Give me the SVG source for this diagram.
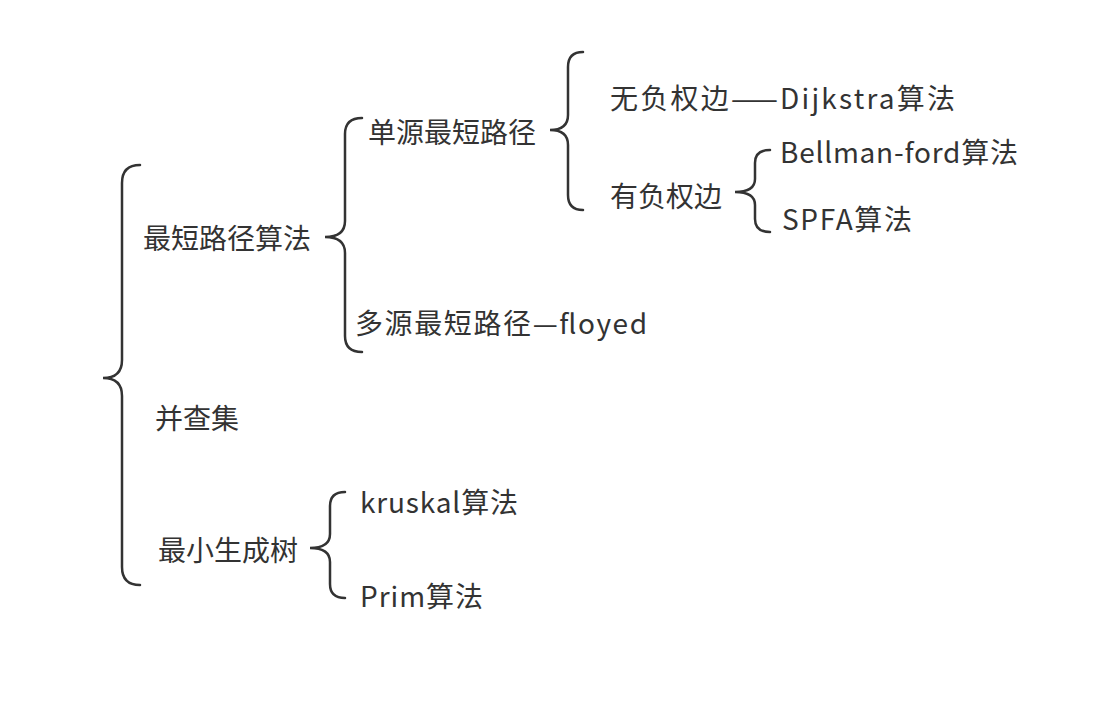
<svg xmlns="http://www.w3.org/2000/svg" width="1113" height="716" viewBox="0 0 1113 716">
<style>
text{font-family:"Noto Sans CJK SC","Noto Sans",sans-serif;font-size:28px;fill:#333}
.b{fill:none;stroke:#333;stroke-width:2.5;stroke-linecap:round}
</style>
<rect width="1113" height="716" fill="#fff"/>
<g id="connectors">
<path class="b" d="M140,165 Q122,165 122,183 L122,360 Q122,378 103,378 Q122,378 122,396 L122,567 Q122,585 140,585"/>
<path class="b" d="M362,118 Q345,118 345,134 L345,221 Q345,237 325,237 Q345,237 345,253 L345,336 Q345,352 362,352"/>
<path class="b" d="M583,52 Q568,52 568,67 L568,115 Q568,130 550,130 Q568,130 568,145 L568,195 Q568,210 583,210"/>
<path class="b" d="M770,150 Q755,150 755,163 L755,179 Q755,192 735,192 Q755,192 755,205 L755,219 Q755,232 770,232"/>
<path class="b" d="M345,492 Q330,492 330,506 L330,534 Q330,548 310,548 Q330,548 330,562 L330,584 Q330,598 345,598"/>
</g>
<g id="n1"><text x="143" y="249">最短路径算法</text></g>
<g id="n2"><text x="368" y="143">单源最短路径</text></g>
<g id="n3"><text x="355" y="334" textLength="292">多源最短路径—floyed</text></g>
<g id="n4"><text x="610" y="109" textLength="345">无负权边——Dijkstra算法</text></g>
<g id="n5"><text x="610" y="207">有负权边</text></g>
<g id="n6"><text x="780" y="163" textLength="238">Bellman-ford算法</text></g>
<g id="n7"><text x="782" y="230" textLength="130">SPFA算法</text></g>
<g id="n8"><text x="155" y="429">并查集</text></g>
<g id="n9"><text x="360" y="513" textLength="158">kruskal算法</text></g>
<g id="n10"><text x="158" y="561">最小生成树</text></g>
<g id="n11"><text x="360" y="607" textLength="123">Prim算法</text></g>
</svg>
